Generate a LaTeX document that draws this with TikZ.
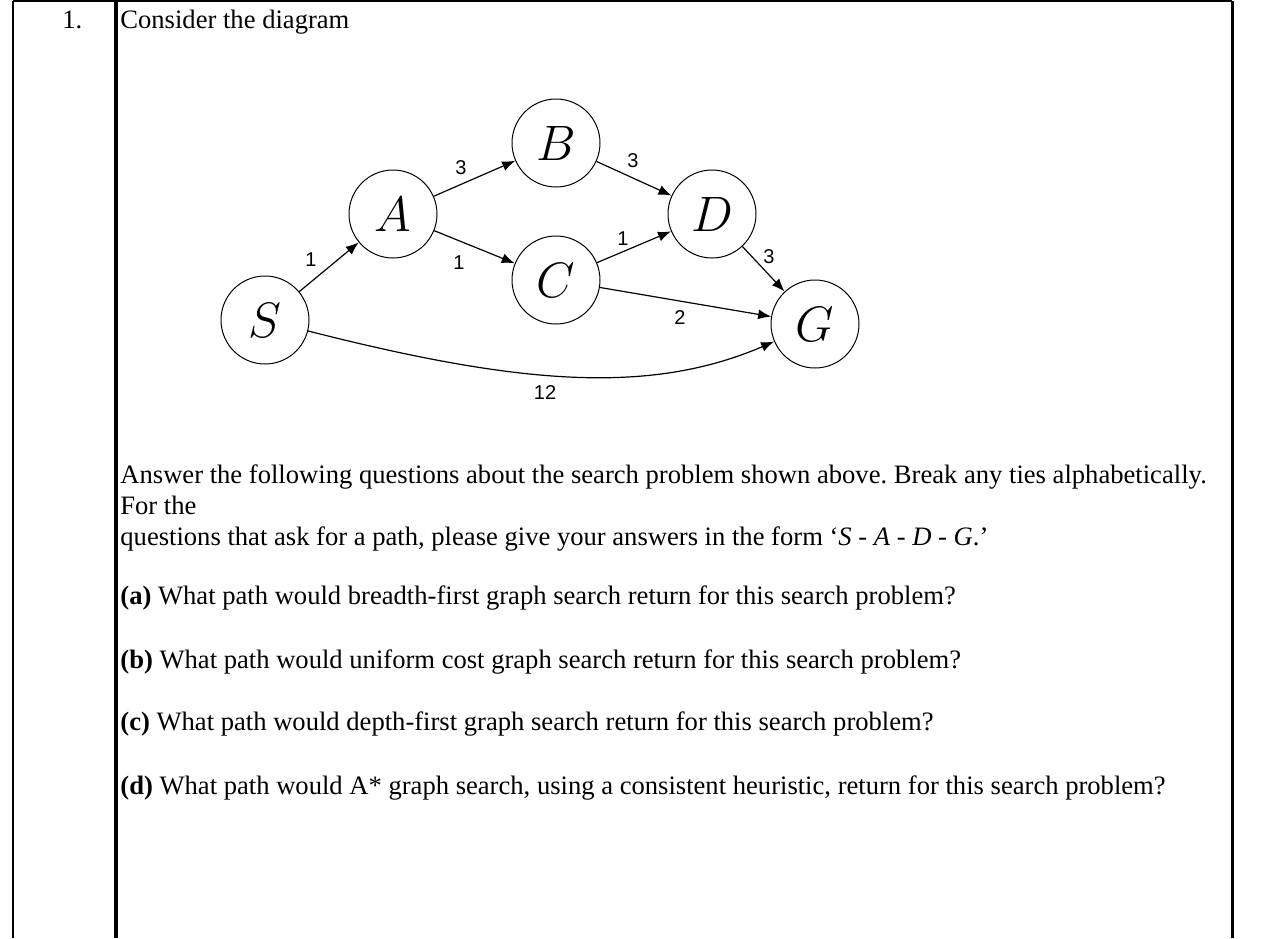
\documentclass[tikz,border=0pt]{standalone}
\usepackage{fontspec}
\setmainfont{Liberation Serif}
\newfontfamily\wtfont{Liberation Sans}
\usetikzlibrary{arrows.meta}
\frenchspacing

\begin{document}
\begin{tikzpicture}[x=0.5pt, y=-0.5pt,
    state/.style={draw, circle, line width=0.5pt, minimum size=44pt, inner sep=0pt,
                  font=\fontsize{23.5}{23.5}\selectfont},
    edge/.style={line width=0.6pt, -{Latex[length=6.5pt, width=5pt]}},
    wt/.style={inner sep=0pt, font=\wtfont\fontsize{10}{10}\selectfont},
    line/.style={anchor=base west, inner sep=0pt, font=\fontsize{13.3}{13.3}\selectfont}]
\useasboundingbox (0,0) rectangle (1280,938);
% table frame
\draw[line width=1.2pt] (13,1) -- (1232,1);
\draw[line width=1.2pt] (13,1) -- (13,938);
\draw[line width=2pt] (116,1) -- (116,938);
\draw[line width=1.5pt] (1232,1) -- (1232,938);

\node[line] (num) at (62,28) {1.};
\node[line] (intro) at (120,28) {Consider the diagram};

% search graph
\node[state] (S) at (265,320) {$S$};
\node[state] (A) at (393,214) {$A$};
\node[state] (B) at (556,143) {$B$};
\node[state] (C) at (556,280) {$C$};
\node[state] (D) at (712,214) {$D$};
\node[state] (G) at (815,324) {$G$};

\draw[edge] (S) -- (A);
\draw[edge] (A) -- (B);
\draw[edge] (A) -- (C);
\draw[edge] (B) -- (D);
\draw[edge] (C) -- (D);
\draw[edge] (C) -- (G);
\draw[edge] (D) -- (G);
\draw[edge] (S) .. controls (520,385) and (650,395) .. (G);

\node[wt] (wSA) at (311,260) {1};
\node[wt] (wAB) at (461,168) {3};
\node[wt] (wAC) at (459,263) {1};
\node[wt] (wBD) at (633,161) {3};
\node[wt] (wCD) at (623,239) {1};
\node[wt] (wCG) at (680,318) {2};
\node[wt] (wDG) at (769,257) {3};
\node[wt] (wSG) at (545,393) {12};

% questions
\node[line] (ans1) at (120,483) {Answer the following questions about the search problem shown above. Break any ties alphabetically.};
\node[line] (ans2) at (120,514) {For the};
\node[line] (ans3) at (120,545) {questions that ask for a path, please give your answers in the form `\textit{S} - \textit{A} - \textit{D} - \textit{G}.'};
\node[line] (qa) at (120,604) {\textbf{(a)} What path would breadth-first graph search return for this search problem?};
\node[line] (qb) at (120,668) {\textbf{(b)} What path would uniform cost graph search return for this search problem?};
\node[line] (qc) at (120,730) {\textbf{(c)} What path would depth-first graph search return for this search problem?};
\node[line] (qd) at (120,794) {\textbf{(d)} What path would A* graph search, using a consistent heuristic, return for this search problem?};
\end{tikzpicture}
\end{document}
